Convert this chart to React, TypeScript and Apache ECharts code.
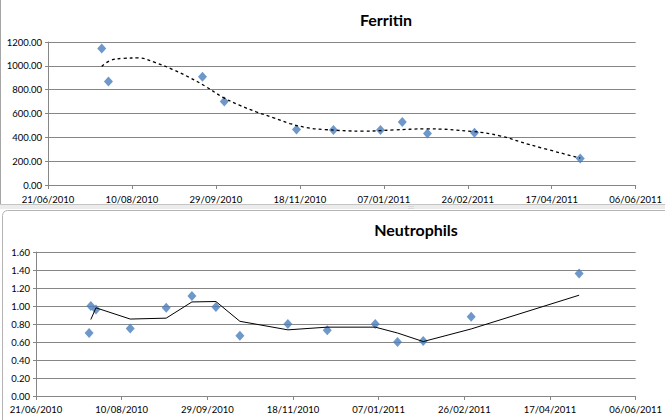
import React, { useEffect, useRef } from "react";
import * as echarts from "echarts";

// ---- Ferritin ----
const ferritinDates = [
  "23/07/2010", "27/07/2010", "21/09/2010", "04/10/2010", "16/11/2010", "08/12/2010",
  "05/01/2011", "18/01/2011", "02/02/2011", "02/03/2011", "04/05/2011",
];
const ferritinValues = [1145, 868, 909, 700, 466, 461, 461, 528, 432, 438, 223];

// polynomial trendline
const ferritinTrendDates = [
  "23/07/2010", "28/07/2010", "05/08/2010", "14/08/2010", "24/08/2010", "03/09/2010",
  "13/09/2010", "23/09/2010", "03/10/2010", "13/10/2010", "23/10/2010", "02/11/2010",
  "12/11/2010", "22/11/2010", "02/12/2010", "26/12/2010", "13/01/2011", "01/02/2011",
  "01/03/2011", "17/03/2011", "04/04/2011", "04/05/2011",
];
const ferritinTrendValues = [
  995, 1044, 1063, 1066, 1027, 971, 904, 826, 737, 670, 614, 566, 516, 482, 466, 452, 462,
  471, 449, 413, 338, 226,
];

// ---- Neutrophils ----
const neutroDates = [
  "22/07/2010", "23/07/2010", "26/07/2010", "15/08/2010", "05/09/2010", "20/09/2010",
  "04/10/2010", "18/10/2010", "15/11/2010", "08/12/2010", "05/01/2011", "18/01/2011",
  "02/02/2011", "02/03/2011", "04/05/2011",
];
const neutroValues = [0.7, 1.0, 0.96, 0.75, 0.98, 1.11, 0.99, 0.67, 0.8, 0.73, 0.8, 0.6, 0.61, 0.88, 1.36];

// 2-period moving average line
const neutroTrendDates = neutroDates.slice(1);
const neutroTrendValues = [0.85, 0.98, 0.855, 0.865, 1.045, 1.05, 0.83, 0.735, 0.765, 0.765, 0.7, 0.605, 0.745, 1.12];

// ---- axes ----
const xMinDate = "21/06/2010";
const xMaxDate = "06/06/2011";
const xStepDays = 50;
const ferritinAxis = { min: 0, max: 1200, step: 200 };
const neutroAxis = { min: 0, max: 1.6, step: 0.2 };

const DAY = 86400000;
const EPOCH = Date.UTC(1899, 11, 30);
function toSerial(s: string): number {
  const [d, m, y] = s.split("/").map(Number);
  return Math.round((Date.UTC(y, m - 1, d) - EPOCH) / DAY);
}
function serialLabel(v: number): string {
  const dt = new Date(EPOCH + v * DAY);
  const dd = String(dt.getUTCDate()).padStart(2, "0");
  const mm = String(dt.getUTCMonth() + 1).padStart(2, "0");
  return `${dd}/${mm}/${dt.getUTCFullYear()}`;
}
const pairs = (ds: string[], vs: number[]) => ds.map((d, i) => [toSerial(d), vs[i]]);

const FONT = "Lato";
const AXIS_GREY = "#868686";
const MARKER = "#4a7ebb";

export default function App() {
  const ref = useRef<HTMLDivElement>(null);
  useEffect(() => {
    if (!ref.current) return;
    const chart = echarts.init(ref.current, undefined, { renderer: "svg" });
    const xAxisBase = (margin: number) => ({
      type: "value" as const,
      min: toSerial(xMinDate),
      max: toSerial(xMaxDate),
      interval: xStepDays,
      axisLine: { show: true, lineStyle: { color: AXIS_GREY, width: 1 } },
      axisTick: { show: true, length: 4, lineStyle: { color: AXIS_GREY } },
      splitLine: { show: false },
      axisLabel: {
        formatter: (v: number) => serialLabel(v),
        fontFamily: FONT,
        fontSize: 9.5,
        color: "#000",
        margin,
        showMinLabel: true,
        showMaxLabel: true,
      },
    });
    const yAxisBase = (a: { min: number; max: number; step: number }) => ({
      type: "value" as const,
      min: a.min,
      max: a.max,
      interval: a.step,
      axisLine: { show: true, lineStyle: { color: AXIS_GREY, width: 1 } },
      axisTick: { show: true, length: 3, lineStyle: { color: AXIS_GREY } },
      splitLine: { show: true, lineStyle: { color: AXIS_GREY, width: 1 } },
      axisLabel: {
        formatter: (v: number) => v.toFixed(2),
        fontFamily: FONT,
        fontSize: 9.5,
        color: "#000",
        margin: 6,
      },
    });
    chart.setOption({
      animation: false,
      backgroundColor: "#ffffff",
      grid: [
        { left: 48, right: 29, top: 42, bottom: 235, containLabel: false },
        { left: 36, right: 26, top: 252, bottom: 24, containLabel: false },
      ],
      xAxis: [
        { ...xAxisBase(9), gridIndex: 0 },
        { ...xAxisBase(8.5), gridIndex: 1 },
      ],
      yAxis: [
        { ...yAxisBase(ferritinAxis), gridIndex: 0 },
        { ...yAxisBase(neutroAxis), gridIndex: 1 },
      ],
      series: [
        {
          name: "Ferritin",
          type: "scatter",
          xAxisIndex: 0,
          yAxisIndex: 0,
          symbol: "diamond",
          symbolSize: [9, 10],
          itemStyle: { color: MARKER },
          data: pairs(ferritinDates, ferritinValues),
          z: 2,
        },
        {
          name: "Ferritin trend",
          type: "line",
          xAxisIndex: 0,
          yAxisIndex: 0,
          smooth: 0.4,
          showSymbol: false,
          symbol: "none",
          lineStyle: { color: "#000", width: 1.3, type: [3, 3] },
          data: pairs(ferritinTrendDates, ferritinTrendValues),
          z: 3,
        },
        {
          name: "Neutrophils",
          type: "scatter",
          xAxisIndex: 1,
          yAxisIndex: 1,
          symbol: "diamond",
          symbolSize: [9, 10],
          itemStyle: { color: MARKER },
          data: pairs(neutroDates, neutroValues),
          z: 2,
        },
        {
          name: "Neutrophils trend",
          type: "line",
          xAxisIndex: 1,
          yAxisIndex: 1,
          showSymbol: false,
          symbol: "none",
          lineStyle: { color: "#000", width: 1 },
          data: pairs(neutroTrendDates, neutroTrendValues),
          z: 3,
        },
      ],
      graphic: [
        { type: "line", shape: { x1: 0.5, y1: 0, x2: 0.5, y2: 204 }, style: { stroke: "#a6a6a6", lineWidth: 1 } },
        { type: "rect", shape: { x: 0, y: 204, width: 665, height: 5 }, style: { fill: "#ececec", stroke: "none" } },
        { type: "line", shape: { x1: 0, y1: 204.5, x2: 665, y2: 204.5 }, style: { stroke: "#c4c4c4", lineWidth: 1 } },
        {
          type: "text",
          x: 411,
          y: 206.5,
          style: { text: "::::", fill: "#b0b0b0", fontSize: 6, align: "center", verticalAlign: "middle", fontFamily: FONT },
        },
        {
          type: "rect",
          shape: { x: 2.5, y: 210.5, width: 700, height: 300, r: 5 },
          style: { fill: "none", stroke: "#b4b4b4", lineWidth: 1 },
        },
        {
          type: "text",
          x: 386,
          y: 19,
          style: { text: "Ferritin", fill: "#000", fontSize: 16, fontWeight: "bold", fontFamily: FONT, align: "center", verticalAlign: "middle" },
        },
        {
          type: "text",
          x: 416,
          y: 229,
          style: { text: "Neutrophils", fill: "#000", fontSize: 16, fontWeight: "bold", fontFamily: FONT, align: "center", verticalAlign: "middle" },
        },
      ],
    });
    return () => chart.dispose();
  }, []);
  return (
    <div
      ref={ref}
      style={{ position: "fixed", left: 0, top: 0, width: 665, height: 420, background: "#fff" }}
    />
  );
}
